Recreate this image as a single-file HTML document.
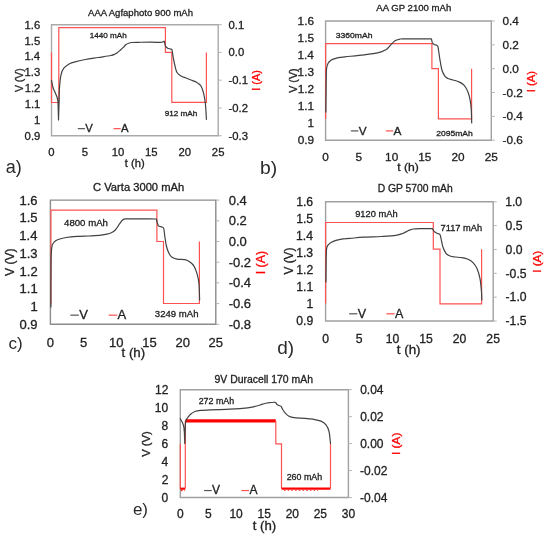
<!DOCTYPE html>
<html><head><meta charset="utf-8"><style>
html,body{margin:0;padding:0;background:#fff;}
svg{display:block;}
text{font-family:"Liberation Sans",Arial,sans-serif;stroke-width:0.3px;}
</style></head><body>
<svg width="550" height="537" viewBox="0 0 550 537">
<rect width="550" height="537" fill="#fff"/>
<text x="24.59" y="28.64" font-size="11.3" fill="#222" stroke="#222">1.6</text>
<text x="24.57" y="44.5" font-size="11.3" fill="#222" stroke="#222">1.5</text>
<text x="24.42" y="60.36" font-size="11.3" fill="#222" stroke="#222">1.4</text>
<text x="24.59" y="76.22" font-size="11.3" fill="#222" stroke="#222">1.3</text>
<text x="24.66" y="92.07" font-size="11.3" fill="#222" stroke="#222">1.2</text>
<text x="24.65" y="107.93" font-size="11.3" fill="#222" stroke="#222">1.1</text>
<text x="34.07" y="123.79" font-size="11.3" fill="#222" stroke="#222">1</text>
<text x="24.62" y="139.64" font-size="11.3" fill="#222" stroke="#222">0.9</text>
<text x="228.56" y="28.64" font-size="11.3" fill="#222" stroke="#222">0.1</text>
<text x="228.56" y="56.39" font-size="11.3" fill="#222" stroke="#222">0.0</text>
<text x="228.5" y="84.14" font-size="11.3" fill="#222" stroke="#222">-0.1</text>
<text x="228.5" y="111.89" font-size="11.3" fill="#222" stroke="#222">-0.2</text>
<text x="228.5" y="139.64" font-size="11.3" fill="#222" stroke="#222">-0.3</text>
<text x="48.36" y="155.54" font-size="11.3" fill="#222" stroke="#222">0</text>
<text x="81.71" y="155.54" font-size="11.3" fill="#222" stroke="#222">5</text>
<text x="111.69" y="155.54" font-size="11.3" fill="#222" stroke="#222">10</text>
<text x="145.05" y="155.54" font-size="11.3" fill="#222" stroke="#222">15</text>
<text x="178.52" y="155.54" font-size="11.3" fill="#222" stroke="#222">20</text>
<text x="211.87" y="155.54" font-size="11.3" fill="#222" stroke="#222">25</text>
<path d="M51.5,24.7 H218.2 V135.7 H51.5 Z" fill="none" stroke="#aaaaaa" stroke-width="1.4"/>
<path d="M218.2,24.7 H221.7 M218.2,52.45 H221.7 M218.2,80.2 H221.7 M218.2,107.95 H221.7 M218.2,135.7 H221.7" fill="none" stroke="#b4b4b4" stroke-width="1"/>
<path d="M51.5,52.4 L51.5,102.5 L58.8,102.5 L58.8,27.6 L165.4,27.6 L165.4,52.3 L171.8,52.3 L171.8,102.3 L206.4,102.3 L206.4,52.4" fill="none" stroke="#ff5252" stroke-width="1.2"/>
<path d="M51.5,80.3 C51.75,81.5 52.42,85.52 53,87.5 C53.58,89.48 54.33,90.62 55,92.2 C55.67,93.78 56.5,95.42 57,97 C57.5,98.58 57.83,100.92 58,101.7 L58.5,119.9 L59.1,101 C59.17,98.75 59.18,91.87 59.5,87.5 C59.82,83.13 60.25,78.07 61,74.8 C61.75,71.53 62.5,69.78 64,67.9 C65.5,66.02 68.17,64.5 70,63.5 C71.83,62.5 72.42,62.57 75,61.9 C77.58,61.23 81.63,60.23 85.5,59.5 C89.37,58.77 93.97,58.17 98.2,57.5 C102.43,56.83 108.1,56.08 110.9,55.5 C113.7,54.92 113.93,54.45 115,54 C116.07,53.55 116.38,53.47 117.3,52.8 C118.22,52.13 119.45,50.95 120.5,50 C121.55,49.05 122.68,48 123.6,47.1 C124.52,46.2 125.15,45.25 126,44.6 C126.85,43.95 127.7,43.55 128.7,43.2 C129.7,42.85 130.35,42.65 132,42.5 C133.65,42.35 135.37,42.37 138.6,42.3 C141.83,42.23 147.75,42.08 151.4,42.1 C155.05,42.12 158.57,42.45 160.5,42.4 C162.43,42.35 162.37,41.98 163,41.8 C163.63,41.62 164.08,41.38 164.3,41.3 L165.5,46.4 C165.87,46.7 166.87,47.75 167.7,48.2 C168.53,48.65 169.78,48.8 170.5,49.1 C171.22,49.4 171.55,48.63 172,50 C172.45,51.37 172.7,54.63 173.2,57.3 C173.7,59.97 174.37,63.47 175,66 C175.63,68.53 176,70.83 177,72.5 C178,74.17 179.52,75.08 181,76 C182.48,76.92 184.23,77.33 185.9,78 C187.57,78.67 189.15,79.23 191,80 C192.85,80.77 195.33,81.6 197,82.6 C198.67,83.6 199.88,84.15 201,86 C202.12,87.85 202.95,90.53 203.7,93.7 C204.45,96.87 205.05,100.72 205.5,105 C205.95,109.28 206.25,117 206.4,119.4" fill="none" stroke="#424242" stroke-width="1.2" stroke-linejoin="round" stroke-linecap="round"/>
<text x="88.08" y="15.6" font-size="9.88" fill="#222" stroke="#222" textLength="104.94" lengthAdjust="spacingAndGlyphs">AAA Agfaphoto 900 mAh</text>
<text x="89.78" y="37.8" font-size="7.89" fill="#222" stroke="#222" textLength="36.95" lengthAdjust="spacingAndGlyphs">1440 mAh</text>
<text x="164.72" y="116.1" font-size="7.75" fill="#222" stroke="#222" textLength="32.51" lengthAdjust="spacingAndGlyphs">912 mAh</text>
<path d="M77.8,128.65 h7.2" stroke="#555" stroke-width="1.2"/>
<text x="85.24" y="132.29" font-size="11.3" fill="#222" stroke="#222">V</text>
<path d="M113.5,128.65 h7.2" stroke="#ff5050" stroke-width="1.2"/>
<text x="120.98" y="132.29" font-size="11.3" fill="#222" stroke="#222">A</text>
<text x="124.73" y="166.5" font-size="10.8" fill="#222" stroke="#222" textLength="19.96" lengthAdjust="spacingAndGlyphs">t (h)</text>
<text transform="translate(23.2 92.1) rotate(-90)" font-size="11" fill="#222" stroke="#222" textLength="23.8" lengthAdjust="spacingAndGlyphs">V (V)</text>
<text transform="translate(260.1 90.71) rotate(-90)" font-size="10.5" fill="#ff0000" stroke="#ff0000" textLength="20.68" lengthAdjust="spacingAndGlyphs">I (A)</text>
<text x="5.84" y="173.2" font-size="18" fill="#2a2a2a" stroke="none">a)</text>
<text x="297.62" y="25.12" font-size="11.8" fill="#222" stroke="#222">1.6</text>
<text x="297.59" y="42.15" font-size="11.8" fill="#222" stroke="#222">1.5</text>
<text x="297.44" y="59.18" font-size="11.8" fill="#222" stroke="#222">1.4</text>
<text x="297.62" y="76.2" font-size="11.8" fill="#222" stroke="#222">1.3</text>
<text x="297.69" y="93.23" font-size="11.8" fill="#222" stroke="#222">1.2</text>
<text x="297.68" y="110.26" font-size="11.8" fill="#222" stroke="#222">1.1</text>
<text x="307.52" y="127.29" font-size="11.8" fill="#222" stroke="#222">1</text>
<text x="297.65" y="144.32" font-size="11.8" fill="#222" stroke="#222">0.9</text>
<text x="502.54" y="25.12" font-size="11.8" fill="#222" stroke="#222">0.4</text>
<text x="502.54" y="48.96" font-size="11.8" fill="#222" stroke="#222">0.2</text>
<text x="502.54" y="72.8" font-size="11.8" fill="#222" stroke="#222">0.0</text>
<text x="502.48" y="96.64" font-size="11.8" fill="#222" stroke="#222">-0.2</text>
<text x="502.48" y="120.48" font-size="11.8" fill="#222" stroke="#222">-0.4</text>
<text x="502.48" y="144.32" font-size="11.8" fill="#222" stroke="#222">-0.6</text>
<text x="322.32" y="161.02" font-size="11.8" fill="#222" stroke="#222">0</text>
<text x="355.47" y="161.02" font-size="11.8" fill="#222" stroke="#222">5</text>
<text x="385.1" y="161.02" font-size="11.8" fill="#222" stroke="#222">10</text>
<text x="418.26" y="161.02" font-size="11.8" fill="#222" stroke="#222">15</text>
<text x="451.53" y="161.02" font-size="11.8" fill="#222" stroke="#222">20</text>
<text x="484.69" y="161.02" font-size="11.8" fill="#222" stroke="#222">25</text>
<path d="M325.6,21 H491.3 V140.2 H325.6 Z" fill="none" stroke="#a0a0a0" stroke-width="1.4"/>
<path d="M491.3,21 H494.8 M491.3,44.84 H494.8 M491.3,68.68 H494.8 M491.3,92.52 H494.8 M491.3,116.36 H494.8 M491.3,140.2 H494.8" fill="none" stroke="#b4b4b4" stroke-width="1"/>
<path d="M325.6,118.9 L325.6,43.6 L431.9,43.6 L431.9,68.6 L438.4,68.6 L438.4,118.9 L471.6,118.9 L471.6,68.8" fill="none" stroke="#ff5252" stroke-width="1.2"/>
<path d="M325.8,112 C325.83,109.17 325.92,101.17 326,95 C326.08,88.83 326.2,79.42 326.3,75 C326.4,70.58 326.32,70.42 326.6,68.5 C326.88,66.58 327.27,64.87 328,63.5 C328.73,62.13 329.83,61.12 331,60.3 C332.17,59.48 333.5,59.08 335,58.6 C336.5,58.12 338.33,57.7 340,57.4 C341.67,57.1 340.98,57.22 345,56.8 C349.02,56.38 358.5,55.58 364.1,54.9 C369.7,54.22 374.97,53.57 378.6,52.7 C382.23,51.83 384.25,50.57 385.9,49.7 C387.55,48.83 387.53,48.47 388.5,47.5 C389.47,46.53 390.78,44.88 391.7,43.9 C392.62,42.92 393.27,42.2 394,41.6 C394.73,41 395.27,40.67 396.1,40.3 C396.93,39.93 397.82,39.63 399,39.4 C400.18,39.17 397.8,39 403.2,38.9 C408.6,38.8 426.7,38.82 431.4,38.8 L432.3,42.7 C432.6,43 433.23,43.98 434.1,44.5 C434.97,45.02 436.77,44.88 437.5,45.8 C438.23,46.72 438.08,47.62 438.5,50 C438.92,52.38 439.42,56.73 440,60.1 C440.58,63.47 441.17,67.5 442,70.2 C442.83,72.9 444,74.92 445,76.3 C446,77.68 446.5,77.85 448,78.5 C449.5,79.15 452.17,79.63 454,80.2 C455.83,80.77 457.5,81.22 459,81.9 C460.5,82.58 461.83,83.28 463,84.3 C464.17,85.32 465.08,86.47 466,88 C466.92,89.53 467.78,91.33 468.5,93.5 C469.22,95.67 469.83,98.25 470.3,101 C470.77,103.75 471.07,106.33 471.3,110 C471.53,113.67 471.63,120.83 471.7,123" fill="none" stroke="#424242" stroke-width="1.2" stroke-linejoin="round" stroke-linecap="round"/>
<text x="376.38" y="10.5" font-size="9.45" fill="#222" stroke="#222" textLength="74.94" lengthAdjust="spacingAndGlyphs">AA GP 2100 mAh</text>
<text x="335.77" y="37.6" font-size="8.03" fill="#222" stroke="#222" textLength="36.68" lengthAdjust="spacingAndGlyphs">3360mAh</text>
<text x="436.17" y="136.2" font-size="8.03" fill="#222" stroke="#222" textLength="36.58" lengthAdjust="spacingAndGlyphs">2095mAh</text>
<path d="M350.9,130.9 h7.5" stroke="#555" stroke-width="1.2"/>
<text x="358.64" y="134.72" font-size="11.8" fill="#222" stroke="#222">V</text>
<path d="M385.8,130.9 h7.5" stroke="#ff5050" stroke-width="1.2"/>
<text x="393.58" y="134.72" font-size="11.8" fill="#222" stroke="#222">A</text>
<text x="397.22" y="170.5" font-size="11.5" fill="#222" stroke="#222" textLength="21.64" lengthAdjust="spacingAndGlyphs">t (h)</text>
<text transform="translate(296.7 92.8) rotate(-90)" font-size="11.3" fill="#222" stroke="#222" textLength="24.42" lengthAdjust="spacingAndGlyphs">V (V)</text>
<text transform="translate(534.5 92.28) rotate(-90)" font-size="11" fill="#ff0000" stroke="#ff0000" textLength="21.23" lengthAdjust="spacingAndGlyphs">I (A)</text>
<text x="260.05" y="173.6" font-size="18" fill="#2a2a2a" stroke="none" textLength="17.15" lengthAdjust="spacingAndGlyphs">b)</text>
<text x="19.5" y="204.64" font-size="13" fill="#222" stroke="#222">1.6</text>
<text x="19.48" y="222.38" font-size="13" fill="#222" stroke="#222">1.5</text>
<text x="19.31" y="240.12" font-size="13" fill="#222" stroke="#222">1.4</text>
<text x="19.5" y="257.87" font-size="13" fill="#222" stroke="#222">1.3</text>
<text x="19.58" y="275.61" font-size="13" fill="#222" stroke="#222">1.2</text>
<text x="19.57" y="293.35" font-size="13" fill="#222" stroke="#222">1.1</text>
<text x="30.41" y="311.09" font-size="13" fill="#222" stroke="#222">1</text>
<text x="19.54" y="328.84" font-size="13" fill="#222" stroke="#222">0.9</text>
<text x="228.69" y="204.64" font-size="13" fill="#222" stroke="#222">0.4</text>
<text x="228.69" y="225.34" font-size="13" fill="#222" stroke="#222">0.2</text>
<text x="228.69" y="246.04" font-size="13" fill="#222" stroke="#222">0.0</text>
<text x="228.63" y="266.74" font-size="13" fill="#222" stroke="#222">-0.2</text>
<text x="228.63" y="287.44" font-size="13" fill="#222" stroke="#222">-0.4</text>
<text x="228.63" y="308.14" font-size="13" fill="#222" stroke="#222">-0.6</text>
<text x="228.63" y="328.84" font-size="13" fill="#222" stroke="#222">-0.8</text>
<text x="46.79" y="347.14" font-size="13" fill="#222" stroke="#222">0</text>
<text x="79.88" y="347.14" font-size="13" fill="#222" stroke="#222">5</text>
<text x="109.09" y="347.14" font-size="13" fill="#222" stroke="#222">10</text>
<text x="142.19" y="347.14" font-size="13" fill="#222" stroke="#222">15</text>
<text x="175.42" y="347.14" font-size="13" fill="#222" stroke="#222">20</text>
<text x="208.52" y="347.14" font-size="13" fill="#222" stroke="#222">25</text>
<path d="M50.4,200.1 H215.8 V324.3 H50.4 Z" fill="none" stroke="#8c8c8c" stroke-width="1.4"/>
<path d="M215.8,200.1 H219.3 M215.8,220.8 H219.3 M215.8,241.5 H219.3 M215.8,262.2 H219.3 M215.8,282.9 H219.3 M215.8,303.6 H219.3 M215.8,324.3 H219.3" fill="none" stroke="#b4b4b4" stroke-width="1"/>
<path d="M50.9,304.3 L50.9,210.1 L156.9,210.1 L156.9,241.5 L163.5,241.5 L163.5,303.5 L199.4,303.5 L199.4,241.5" fill="none" stroke="#ff5252" stroke-width="1.2"/>
<path d="M50.9,307 C50.9,304.17 50.88,296.17 50.9,290 C50.92,283.83 50.95,275.83 51,270 C51.05,264.17 51.03,258.97 51.2,255 C51.37,251.03 51.62,248.2 52,246.2 C52.38,244.2 52.95,243.85 53.5,243 C54.05,242.15 54.4,241.72 55.3,241.1 C56.2,240.48 57.08,239.9 58.9,239.3 C60.72,238.7 63.17,237.98 66.2,237.5 C69.23,237.02 73.47,236.65 77.1,236.4 C80.73,236.15 85.02,236.13 88,236 C90.98,235.87 92.55,235.8 95,235.6 C97.45,235.4 100.28,235.15 102.7,234.8 C105.12,234.45 107.63,234.08 109.5,233.5 C111.37,232.92 112.68,232.22 113.9,231.3 C115.12,230.38 115.83,229.28 116.8,228 C117.77,226.72 118.73,224.93 119.7,223.6 C120.67,222.27 121.63,220.78 122.6,220 C123.57,219.22 123.43,219.08 125.5,218.9 C127.57,218.72 132.13,218.9 135,218.9 C137.87,218.9 139.13,218.88 142.7,218.9 C146.27,218.92 154.12,218.98 156.4,219 L157.2,222.5 C157.42,223.07 157.7,225.15 158.5,225.9 C159.3,226.65 161.13,226.58 162,227 C162.87,227.42 163.25,226.98 163.7,228.4 C164.15,229.82 164.27,232.65 164.7,235.5 C165.13,238.35 165.63,242.62 166.3,245.5 C166.97,248.38 167.75,250.83 168.7,252.8 C169.65,254.77 170.62,256.25 172,257.3 C173.38,258.35 174.83,258.72 177,259.1 C179.17,259.48 182.83,259.12 185,259.6 C187.17,260.08 188.5,260.92 190,262 C191.5,263.08 192.83,264.15 194,266.1 C195.17,268.05 196.17,270.75 197,273.7 C197.83,276.65 198.57,279.42 199,283.8 C199.43,288.18 199.5,297.3 199.6,300" fill="none" stroke="#424242" stroke-width="1.2" stroke-linejoin="round" stroke-linecap="round"/>
<text x="93.03" y="190.5" font-size="10.47" fill="#222" stroke="#222" textLength="91.2" lengthAdjust="spacingAndGlyphs">C Varta 3000 mAh</text>
<text x="64.08" y="225.9" font-size="9.3" fill="#222" stroke="#222" textLength="43.85" lengthAdjust="spacingAndGlyphs">4800 mAh</text>
<text x="154.84" y="316.8" font-size="9.58" fill="#222" stroke="#222" textLength="43.69" lengthAdjust="spacingAndGlyphs">3249 mAh</text>
<path d="M70.3,315.15 h8.6" stroke="#555" stroke-width="1.2"/>
<text x="79.13" y="319.39" font-size="13" fill="#222" stroke="#222">V</text>
<path d="M108.7,315.15 h8.6" stroke="#ff5050" stroke-width="1.2"/>
<text x="117.57" y="319.39" font-size="13" fill="#222" stroke="#222">A</text>
<text x="121.5" y="357" font-size="13" fill="#222" stroke="#222" textLength="23.62" lengthAdjust="spacingAndGlyphs">t (h)</text>
<text transform="translate(13.9 276.06) rotate(-90)" font-size="12.8" fill="#222" stroke="#222" textLength="27.61" lengthAdjust="spacingAndGlyphs">V (V)</text>
<text transform="translate(265 274.23) rotate(-90)" font-size="12" fill="#ff0000" stroke="#ff0000" textLength="23.3" lengthAdjust="spacingAndGlyphs">I (A)</text>
<text x="8.59" y="349.3" font-size="17" fill="#2a2a2a" stroke="none">c)</text>
<text x="296.18" y="206.06" font-size="12.2" fill="#222" stroke="#222">1.6</text>
<text x="296.15" y="223.09" font-size="12.2" fill="#222" stroke="#222">1.5</text>
<text x="296" y="240.11" font-size="12.2" fill="#222" stroke="#222">1.4</text>
<text x="296.18" y="257.14" font-size="12.2" fill="#222" stroke="#222">1.3</text>
<text x="296.25" y="274.17" font-size="12.2" fill="#222" stroke="#222">1.2</text>
<text x="296.24" y="291.2" font-size="12.2" fill="#222" stroke="#222">1.1</text>
<text x="306.41" y="308.23" font-size="12.2" fill="#222" stroke="#222">1</text>
<text x="296.22" y="325.26" font-size="12.2" fill="#222" stroke="#222">0.9</text>
<text x="505.17" y="206.06" font-size="12.2" fill="#222" stroke="#222">1.0</text>
<text x="505.62" y="229.9" font-size="12.2" fill="#222" stroke="#222">0.5</text>
<text x="505.62" y="253.74" font-size="12.2" fill="#222" stroke="#222">0.0</text>
<text x="505.56" y="277.58" font-size="12.2" fill="#222" stroke="#222">-0.5</text>
<text x="505.56" y="301.42" font-size="12.2" fill="#222" stroke="#222">-1.0</text>
<text x="505.56" y="325.26" font-size="12.2" fill="#222" stroke="#222">-1.5</text>
<text x="322.21" y="343.16" font-size="12.2" fill="#222" stroke="#222">0</text>
<text x="355.74" y="343.16" font-size="12.2" fill="#222" stroke="#222">5</text>
<text x="385.63" y="343.16" font-size="12.2" fill="#222" stroke="#222">10</text>
<text x="419.17" y="343.16" font-size="12.2" fill="#222" stroke="#222">15</text>
<text x="452.83" y="343.16" font-size="12.2" fill="#222" stroke="#222">20</text>
<text x="486.37" y="343.16" font-size="12.2" fill="#222" stroke="#222">25</text>
<path d="M325.6,201.8 H493.2 V321 H325.6 Z" fill="none" stroke="#a0a0a0" stroke-width="1.4"/>
<path d="M493.2,201.8 H496.7 M493.2,225.64 H496.7 M493.2,249.48 H496.7 M493.2,273.32 H496.7 M493.2,297.16 H496.7 M493.2,321 H496.7" fill="none" stroke="#b4b4b4" stroke-width="1"/>
<path d="M325.6,303.6 L325.6,222.5 L433.3,222.5 L433.3,249.2 L440,249.2 L440,303.8 L481.6,303.8 L481.6,249.3" fill="none" stroke="#ff5252" stroke-width="1.2"/>
<path d="M325.9,282 C325.93,279.17 326,270.42 326.1,265 C326.2,259.58 326.18,252.82 326.5,249.5 C326.82,246.18 327.25,246.28 328,245.1 C328.75,243.92 329.67,243.2 331,242.4 C332.33,241.6 334,240.88 336,240.3 C338,239.72 340.67,239.22 343,238.9 C345.33,238.58 346.63,238.68 350,238.4 C353.37,238.12 357.97,237.52 363.2,237.2 C368.43,236.88 375.95,236.8 381.4,236.5 C386.85,236.2 392.27,235.95 395.9,235.4 C399.53,234.85 401.08,234.02 403.2,233.2 C405.32,232.38 406.93,231.2 408.6,230.5 C410.27,229.8 411.07,229.32 413.2,229 C415.33,228.68 418.22,228.67 421.4,228.6 C424.58,228.53 430.48,228.6 432.3,228.6 L434,231.3 C434.5,231.62 436.03,232.7 437,233.2 C437.97,233.7 439.13,233.43 439.8,234.3 C440.47,235.17 440.47,236.23 441,238.4 C441.53,240.57 442.17,244.82 443,247.3 C443.83,249.78 444.83,251.85 446,253.3 C447.17,254.75 448.5,255.38 450,256 C451.5,256.62 453,256.73 455,257 C457,257.27 459.83,257.23 462,257.6 C464.17,257.97 466.17,258.37 468,259.2 C469.83,260.03 471.5,261.03 473,262.6 C474.5,264.17 475.83,265.93 477,268.6 C478.17,271.27 479.25,274.7 480,278.6 C480.75,282.5 481.2,288.43 481.5,292 C481.8,295.57 481.75,298.67 481.8,300" fill="none" stroke="#424242" stroke-width="1.2" stroke-linejoin="round" stroke-linecap="round"/>
<text x="377.65" y="192.3" font-size="10.61" fill="#222" stroke="#222" textLength="75.12" lengthAdjust="spacingAndGlyphs">D GP 5700 mAh</text>
<text x="355.16" y="217.4" font-size="9.01" fill="#222" stroke="#222" textLength="42.45" lengthAdjust="spacingAndGlyphs">9120 mAh</text>
<text x="440.53" y="230.9" font-size="9.01" fill="#222" stroke="#222" textLength="41.58" lengthAdjust="spacingAndGlyphs">7117 mAh</text>
<path d="M349.1,313.8 h8.3" stroke="#555" stroke-width="1.2"/>
<text x="357.64" y="317.86" font-size="12.5" fill="#222" stroke="#222">V</text>
<path d="M386.4,313.8 h8.3" stroke="#ff5050" stroke-width="1.2"/>
<text x="394.98" y="317.86" font-size="12.5" fill="#222" stroke="#222">A</text>
<text x="396.7" y="354" font-size="12.5" fill="#222" stroke="#222" textLength="23.93" lengthAdjust="spacingAndGlyphs">t (h)</text>
<text transform="translate(292.8 274.46) rotate(-90)" font-size="12.3" fill="#222" stroke="#222" textLength="26.79" lengthAdjust="spacingAndGlyphs">V (V)</text>
<text transform="translate(540.6 272.83) rotate(-90)" font-size="11.3" fill="#ff0000" stroke="#ff0000" textLength="22.1" lengthAdjust="spacingAndGlyphs">I (A)</text>
<text x="277.3" y="353.7" font-size="18" fill="#2a2a2a" stroke="none" textLength="16.88" lengthAdjust="spacingAndGlyphs">d)</text>
<text x="154.96" y="393.89" font-size="12" fill="#222" stroke="#222">12</text>
<text x="154.82" y="411.85" font-size="12" fill="#222" stroke="#222">10</text>
<text x="161.54" y="429.82" font-size="12" fill="#222" stroke="#222">8</text>
<text x="161.56" y="447.79" font-size="12" fill="#222" stroke="#222">6</text>
<text x="161.38" y="465.75" font-size="12" fill="#222" stroke="#222">4</text>
<text x="161.63" y="483.72" font-size="12" fill="#222" stroke="#222">2</text>
<text x="161.5" y="501.69" font-size="12" fill="#222" stroke="#222">0</text>
<text x="360.13" y="393.89" font-size="12" fill="#222" stroke="#222">0.04</text>
<text x="360.13" y="420.84" font-size="12" fill="#222" stroke="#222">0.02</text>
<text x="360.13" y="447.79" font-size="12" fill="#222" stroke="#222">0.00</text>
<text x="360.07" y="474.74" font-size="12" fill="#222" stroke="#222">-0.02</text>
<text x="360.07" y="501.69" font-size="12" fill="#222" stroke="#222">-0.04</text>
<text x="176.96" y="518.49" font-size="12" fill="#222" stroke="#222">0</text>
<text x="204.99" y="518.49" font-size="12" fill="#222" stroke="#222">5</text>
<text x="229.44" y="518.49" font-size="12" fill="#222" stroke="#222">10</text>
<text x="257.47" y="518.49" font-size="12" fill="#222" stroke="#222">15</text>
<text x="285.63" y="518.49" font-size="12" fill="#222" stroke="#222">20</text>
<text x="313.66" y="518.49" font-size="12" fill="#222" stroke="#222">25</text>
<text x="341.73" y="518.49" font-size="12" fill="#222" stroke="#222">30</text>
<path d="M180.3,389.7 H348.4 V497.5 H180.3 Z" fill="none" stroke="#a0a0a0" stroke-width="1.4"/>
<path d="M348.4,389.7 H351.9 M348.4,416.65 H351.9 M348.4,443.6 H351.9 M348.4,470.55 H351.9 M348.4,497.5 H351.9" fill="none" stroke="#b4b4b4" stroke-width="1"/>
<path d="M180.3,443.8 L180.3,488.5" fill="none" stroke="#ff5252" stroke-width="1.2"/>
<path d="M180.3,488.7 L185.3,488.7" fill="none" stroke="#ff0000" stroke-width="2.2"/>
<path d="M181,490.6 H185" stroke="#ff2020" stroke-width="1.2" stroke-dasharray="1.5,2"/>
<path d="M185.3,488.5 L185.3,420.9" fill="none" stroke="#ff5252" stroke-width="1.2"/>
<path d="M185.3,420.9 L275.8,420.9" fill="none" stroke="#ff0000" stroke-width="3.4"/>
<path d="M275.8,420.9 L275.8,443.8 L281.5,443.8 L281.5,488.5" fill="none" stroke="#ff5252" stroke-width="1.2"/>
<path d="M281.5,488.7 L330.5,488.7" fill="none" stroke="#ff0000" stroke-width="2.2"/>
<path d="M284,490.4 H318" stroke="#ff5050" stroke-width="1.1" stroke-dasharray="1.5,2.2"/>
<path d="M330.5,488.5 L330.5,443.8" fill="none" stroke="#ff5252" stroke-width="1.2"/>
<path d="M180.3,418.6 C180.5,419 181.08,420.18 181.5,421 C181.92,421.82 182.42,422.5 182.8,423.5 C183.18,424.5 183.53,425.42 183.8,427 C184.07,428.58 184.3,432 184.4,433 L184.8,443.5 L185.3,425 C185.42,424.25 185.65,421.67 186,420.5 C186.35,419.33 186.63,419.05 187.4,418 C188.17,416.95 189.33,415.28 190.6,414.2 C191.87,413.12 193.37,412.13 195,411.5 C196.63,410.87 197.85,410.68 200.4,410.4 C202.95,410.12 205.93,409.98 210.3,409.8 C214.67,409.62 221.65,409.5 226.6,409.3 C231.55,409.1 235.5,409.02 240,408.6 C244.5,408.18 249.82,407.55 253.6,406.8 C257.38,406.05 260.42,404.73 262.7,404.1 C264.98,403.47 265.25,403.3 267.3,403 C269.35,402.7 273.42,402.08 275,402.3 C276.58,402.52 276.13,403.77 276.8,404.3 C277.47,404.83 278.27,405.13 279,405.5 C279.73,405.87 280.58,405.83 281.2,406.5 C281.82,407.17 281.98,408.35 282.7,409.5 C283.42,410.65 284.45,412.27 285.5,413.4 C286.55,414.53 287.58,415.58 289,416.3 C290.42,417.02 291.33,417.37 294,417.7 C296.67,418.03 301.83,418.05 305,418.3 C308.17,418.55 310.33,418.73 313,419.2 C315.67,419.67 318.83,420.17 321,421.1 C323.17,422.03 324.67,423.1 326,424.8 C327.33,426.5 328.25,428.2 329,431.3 C329.75,434.4 330.25,441.38 330.5,443.4" fill="none" stroke="#424242" stroke-width="1.2" stroke-linejoin="round" stroke-linecap="round"/>
<text x="214.51" y="382.5" font-size="10.17" fill="#222" stroke="#222" textLength="98.47" lengthAdjust="spacingAndGlyphs">9V Duracell 170 mAh</text>
<text x="198.66" y="403.7" font-size="8.73" fill="#222" stroke="#222" textLength="35.42" lengthAdjust="spacingAndGlyphs">272 mAh</text>
<text x="286.66" y="479.5" font-size="9.01" fill="#222" stroke="#222" textLength="35.42" lengthAdjust="spacingAndGlyphs">260 mAh</text>
<path d="M204.1,490.55 h7.7" stroke="#555" stroke-width="1.2"/>
<text x="212.04" y="494.44" font-size="12" fill="#222" stroke="#222">V</text>
<path d="M241.4,490.55 h7.7" stroke="#ff5050" stroke-width="1.2"/>
<text x="249.38" y="494.44" font-size="12" fill="#222" stroke="#222">A</text>
<text x="252.7" y="529.5" font-size="12" fill="#222" stroke="#222" textLength="23.52" lengthAdjust="spacingAndGlyphs">t (h)</text>
<text transform="translate(150.1 456.71) rotate(-90)" font-size="11.2" fill="#222" stroke="#222">V (V)</text>
<text transform="translate(400.3 454.94) rotate(-90)" font-size="11.5" fill="#ff0000" stroke="#ff0000" textLength="22.32" lengthAdjust="spacingAndGlyphs">I (A)</text>
<text x="132.89" y="514.5" font-size="17" fill="#2a2a2a" stroke="none">e)</text>
</svg>
</body></html>
